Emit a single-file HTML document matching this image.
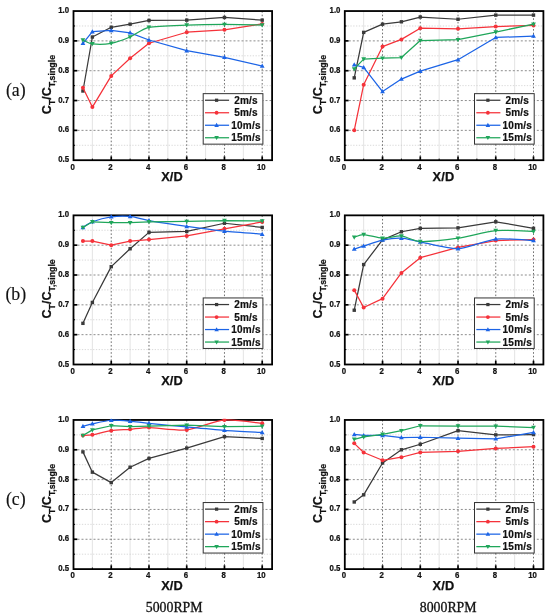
<!DOCTYPE html>
<html><head><meta charset="utf-8"><title>Figure</title>
<style>
html,body{margin:0;padding:0;background:#fff;}
body{width:550px;height:616px;overflow:hidden;}
svg{display:block;}
.t{font-family:"Liberation Sans",Arial,sans-serif;font-weight:bold;fill:#111;}
.k{stroke:#111;stroke-width:0.25px;}
.s{font-family:"Liberation Serif","Times New Roman",serif;fill:#111;}
</style></head><body>
<svg width="550" height="616" viewBox="0 0 550 616">
<rect width="550" height="616" fill="#fff"/>

<g>
<line x1="92.37" y1="11.05" x2="92.37" y2="160.20000000000002" stroke="#dcdcdc" stroke-width="0.8"/>
<line x1="130.11" y1="11.05" x2="130.11" y2="160.20000000000002" stroke="#dcdcdc" stroke-width="0.8"/>
<line x1="167.85" y1="11.05" x2="167.85" y2="160.20000000000002" stroke="#dcdcdc" stroke-width="0.8"/>
<line x1="205.59" y1="11.05" x2="205.59" y2="160.20000000000002" stroke="#dcdcdc" stroke-width="0.8"/>
<line x1="243.33" y1="11.05" x2="243.33" y2="160.20000000000002" stroke="#dcdcdc" stroke-width="0.8"/>
<line x1="73.5" y1="145.29" x2="272.1" y2="145.29" stroke="#cacaca" stroke-width="0.7" stroke-dasharray="1.3 1.5"/>
<line x1="73.5" y1="115.46" x2="272.1" y2="115.46" stroke="#cacaca" stroke-width="0.7" stroke-dasharray="1.3 1.5"/>
<line x1="73.5" y1="85.63" x2="272.1" y2="85.63" stroke="#cacaca" stroke-width="0.7" stroke-dasharray="1.3 1.5"/>
<line x1="73.5" y1="55.80" x2="272.1" y2="55.80" stroke="#cacaca" stroke-width="0.7" stroke-dasharray="1.3 1.5"/>
<line x1="73.5" y1="25.97" x2="272.1" y2="25.97" stroke="#cacaca" stroke-width="0.7" stroke-dasharray="1.3 1.5"/>
<line x1="111.24" y1="11.05" x2="111.24" y2="160.20000000000002" stroke="#6e6e6e" stroke-width="1" stroke-dasharray="1.6 2.0"/>
<line x1="148.98" y1="11.05" x2="148.98" y2="160.20000000000002" stroke="#6e6e6e" stroke-width="1" stroke-dasharray="1.6 2.0"/>
<line x1="186.72" y1="11.05" x2="186.72" y2="160.20000000000002" stroke="#6e6e6e" stroke-width="1" stroke-dasharray="1.6 2.0"/>
<line x1="224.46" y1="11.05" x2="224.46" y2="160.20000000000002" stroke="#6e6e6e" stroke-width="1" stroke-dasharray="1.6 2.0"/>
<line x1="262.20" y1="11.05" x2="262.20" y2="160.20000000000002" stroke="#6e6e6e" stroke-width="1" stroke-dasharray="1.6 2.0"/>
<line x1="73.5" y1="130.37" x2="272.1" y2="130.37" stroke="#808080" stroke-width="0.9" stroke-dasharray="2.0 2.0"/>
<line x1="73.5" y1="100.54" x2="272.1" y2="100.54" stroke="#808080" stroke-width="0.9" stroke-dasharray="2.0 2.0"/>
<line x1="73.5" y1="70.71" x2="272.1" y2="70.71" stroke="#808080" stroke-width="0.9" stroke-dasharray="2.0 2.0"/>
<line x1="73.5" y1="40.88" x2="272.1" y2="40.88" stroke="#808080" stroke-width="0.9" stroke-dasharray="2.0 2.0"/>
<rect x="73.5" y="11.05" width="198.6" height="149.15" fill="none" stroke="#000" stroke-width="1.8"/>
<line x1="92.37" y1="160.20000000000002" x2="92.37" y2="158.60000000000002" stroke="#000" stroke-width="1.0"/>
<line x1="111.24" y1="160.20000000000002" x2="111.24" y2="156.4" stroke="#000" stroke-width="1.7"/>
<line x1="130.11" y1="160.20000000000002" x2="130.11" y2="158.60000000000002" stroke="#000" stroke-width="1.0"/>
<line x1="148.98" y1="160.20000000000002" x2="148.98" y2="156.4" stroke="#000" stroke-width="1.7"/>
<line x1="167.85" y1="160.20000000000002" x2="167.85" y2="158.60000000000002" stroke="#000" stroke-width="1.0"/>
<line x1="186.72" y1="160.20000000000002" x2="186.72" y2="156.4" stroke="#000" stroke-width="1.7"/>
<line x1="205.59" y1="160.20000000000002" x2="205.59" y2="158.60000000000002" stroke="#000" stroke-width="1.0"/>
<line x1="224.46" y1="160.20000000000002" x2="224.46" y2="156.4" stroke="#000" stroke-width="1.7"/>
<line x1="243.33" y1="160.20000000000002" x2="243.33" y2="158.60000000000002" stroke="#000" stroke-width="1.0"/>
<line x1="262.20" y1="160.20000000000002" x2="262.20" y2="156.4" stroke="#000" stroke-width="1.7"/>
<line x1="73.5" y1="145.29" x2="75.1" y2="145.29" stroke="#000" stroke-width="1.0"/>
<line x1="73.5" y1="130.37" x2="77.3" y2="130.37" stroke="#000" stroke-width="1.7"/>
<line x1="73.5" y1="115.46" x2="75.1" y2="115.46" stroke="#000" stroke-width="1.0"/>
<line x1="73.5" y1="100.54" x2="77.3" y2="100.54" stroke="#000" stroke-width="1.7"/>
<line x1="73.5" y1="85.63" x2="75.1" y2="85.63" stroke="#000" stroke-width="1.0"/>
<line x1="73.5" y1="70.71" x2="77.3" y2="70.71" stroke="#000" stroke-width="1.7"/>
<line x1="73.5" y1="55.80" x2="75.1" y2="55.80" stroke="#000" stroke-width="1.0"/>
<line x1="73.5" y1="40.88" x2="77.3" y2="40.88" stroke="#000" stroke-width="1.7"/>
<line x1="73.5" y1="25.97" x2="75.1" y2="25.97" stroke="#000" stroke-width="1.0"/>
<clipPath id="cpaL"><rect x="72.5" y="9.850000000000001" width="200.6" height="151.55"/></clipPath>
<g clip-path="url(#cpaL)">
<path d="M82.94 90.99L92.37 37.00L111.24 27.28L130.11 24.18L148.98 20.45L186.72 20.15L224.46 17.46L262.20 20.15" fill="none" stroke="#3a3a3a" stroke-width="1.25" stroke-linejoin="round"/>
<rect x="81.23" y="89.29" width="3.40" height="3.40" fill="#3a3a3a"/>
<rect x="90.67" y="35.30" width="3.40" height="3.40" fill="#3a3a3a"/>
<rect x="109.54" y="25.58" width="3.40" height="3.40" fill="#3a3a3a"/>
<rect x="128.41" y="22.48" width="3.40" height="3.40" fill="#3a3a3a"/>
<rect x="147.28" y="18.75" width="3.40" height="3.40" fill="#3a3a3a"/>
<rect x="185.02" y="18.45" width="3.40" height="3.40" fill="#3a3a3a"/>
<rect x="222.76" y="15.76" width="3.40" height="3.40" fill="#3a3a3a"/>
<rect x="260.50" y="18.45" width="3.40" height="3.40" fill="#3a3a3a"/>
<path d="M82.94 87.71L92.37 107.10L111.24 75.90L130.11 58.18L148.98 43.27L186.72 32.23L224.46 29.84L262.20 23.88" fill="none" stroke="#f5323a" stroke-width="1.25" stroke-linejoin="round"/>
<circle cx="82.94" cy="87.71" r="2.00" fill="#f5323a"/>
<circle cx="92.37" cy="107.10" r="2.00" fill="#f5323a"/>
<circle cx="111.24" cy="75.90" r="2.00" fill="#f5323a"/>
<circle cx="130.11" cy="58.18" r="2.00" fill="#f5323a"/>
<circle cx="148.98" cy="43.27" r="2.00" fill="#f5323a"/>
<circle cx="186.72" cy="32.23" r="2.00" fill="#f5323a"/>
<circle cx="224.46" cy="29.84" r="2.00" fill="#f5323a"/>
<circle cx="262.20" cy="23.88" r="2.00" fill="#f5323a"/>
<path d="M82.94 43.27L92.37 31.63L111.24 30.44L130.11 32.83L148.98 39.99L186.72 50.72L224.46 57.29L262.20 66.03" fill="none" stroke="#1c64e6" stroke-width="1.25" stroke-linejoin="round"/>
<path d="M82.94 40.77L85.31 45.02L80.56 45.02Z" fill="#1c64e6"/>
<path d="M92.37 29.13L94.75 33.38L90.00 33.38Z" fill="#1c64e6"/>
<path d="M111.24 27.94L113.62 32.19L108.87 32.19Z" fill="#1c64e6"/>
<path d="M130.11 30.33L132.49 34.58L127.74 34.58Z" fill="#1c64e6"/>
<path d="M148.98 37.49L151.36 41.74L146.61 41.74Z" fill="#1c64e6"/>
<path d="M186.72 48.22L189.09 52.47L184.34 52.47Z" fill="#1c64e6"/>
<path d="M224.46 54.79L226.84 59.04L222.09 59.04Z" fill="#1c64e6"/>
<path d="M262.20 63.53L264.58 67.78L259.83 67.78Z" fill="#1c64e6"/>
<path d="M82.94 39.99C84.11 40.47 88.83 43.45 92.37 43.86C95.91 44.27 106.52 44.12 111.24 43.27C115.96 42.41 125.39 39.00 130.11 37.00C134.83 35.00 141.90 28.77 148.98 27.28C156.06 25.79 177.28 25.42 186.72 25.07C196.16 24.72 215.03 24.47 224.46 24.47C233.90 24.47 257.48 25.00 262.20 25.07" fill="none" stroke="#1fa65a" stroke-width="1.25" stroke-linejoin="round"/>
<path d="M82.94 42.49L85.31 38.24L80.56 38.24Z" fill="#1fa65a"/>
<path d="M92.37 46.36L94.75 42.11L90.00 42.11Z" fill="#1fa65a"/>
<path d="M111.24 45.77L113.62 41.52L108.87 41.52Z" fill="#1fa65a"/>
<path d="M130.11 39.50L132.49 35.25L127.74 35.25Z" fill="#1fa65a"/>
<path d="M148.98 29.78L151.36 25.53L146.61 25.53Z" fill="#1fa65a"/>
<path d="M186.72 27.57L189.09 23.32L184.34 23.32Z" fill="#1fa65a"/>
<path d="M224.46 26.97L226.84 22.72L222.09 22.72Z" fill="#1fa65a"/>
<path d="M262.20 27.57L264.58 23.32L259.83 23.32Z" fill="#1fa65a"/>
</g>
<text class="t k" transform="translate(72.60 169.55) scale(0.85 1)" font-size="9.2" text-anchor="middle">0</text>
<text class="t k" transform="translate(110.34 169.55) scale(0.85 1)" font-size="9.2" text-anchor="middle">2</text>
<text class="t k" transform="translate(148.08 169.55) scale(0.85 1)" font-size="9.2" text-anchor="middle">4</text>
<text class="t k" transform="translate(185.82 169.55) scale(0.85 1)" font-size="9.2" text-anchor="middle">6</text>
<text class="t k" transform="translate(223.56 169.55) scale(0.85 1)" font-size="9.2" text-anchor="middle">8</text>
<text class="t k" transform="translate(261.30 169.55) scale(0.85 1)" font-size="9.2" text-anchor="middle">10</text>
<text class="t k" transform="translate(69.10 162.20) scale(0.85 1)" font-size="9.2" text-anchor="end">0.5</text>
<text class="t k" transform="translate(69.10 132.37) scale(0.85 1)" font-size="9.2" text-anchor="end">0.6</text>
<text class="t k" transform="translate(69.10 102.54) scale(0.85 1)" font-size="9.2" text-anchor="end">0.7</text>
<text class="t k" transform="translate(69.10 72.71) scale(0.85 1)" font-size="9.2" text-anchor="end">0.8</text>
<text class="t k" transform="translate(69.10 42.88) scale(0.85 1)" font-size="9.2" text-anchor="end">0.9</text>
<text class="t k" transform="translate(69.10 13.05) scale(0.85 1)" font-size="9.2" text-anchor="end">1.0</text>
<text class="t" x="172.10" y="180.90" font-size="12.8" letter-spacing="0.2" stroke="#111" stroke-width="0.25" text-anchor="middle">X/D</text>
<text class="t" transform="translate(50.90 84.55) rotate(-90)" font-size="12.5" stroke="#111" stroke-width="0.25" text-anchor="middle">C<tspan font-size="8.8" dy="3.8">T</tspan><tspan dy="-3.8">/C</tspan><tspan font-size="8.8" dy="3.8">T,single</tspan></text>
<rect x="203.20" y="93.65" width="59.7" height="50.5" fill="#fff" stroke="#333" stroke-width="1"/>
<line x1="205.00" y1="100.25" x2="229.10" y2="100.25" stroke="#3a3a3a" stroke-width="1.25"/>
<rect x="214.98" y="98.63" width="3.23" height="3.23" fill="#3a3a3a"/>
<text class="t" x="246.00" y="103.75" font-size="10" letter-spacing="0.22" stroke="#111" stroke-width="0.2" text-anchor="middle">2m/s</text>
<line x1="205.00" y1="112.75" x2="229.10" y2="112.75" stroke="#f5323a" stroke-width="1.25"/>
<circle cx="216.60" cy="112.75" r="1.90" fill="#f5323a"/>
<text class="t" x="246.00" y="116.25" font-size="10" letter-spacing="0.22" stroke="#111" stroke-width="0.2" text-anchor="middle">5m/s</text>
<line x1="205.00" y1="125.25" x2="229.10" y2="125.25" stroke="#1c64e6" stroke-width="1.25"/>
<path d="M216.60 122.87L218.86 126.91L214.34 126.91Z" fill="#1c64e6"/>
<text class="t" x="246.00" y="128.75" font-size="10" letter-spacing="0.22" stroke="#111" stroke-width="0.2" text-anchor="middle">10m/s</text>
<line x1="205.00" y1="137.75" x2="229.10" y2="137.75" stroke="#1fa65a" stroke-width="1.25"/>
<path d="M216.60 140.12L218.86 136.09L214.34 136.09Z" fill="#1fa65a"/>
<text class="t" x="246.00" y="141.25" font-size="10" letter-spacing="0.22" stroke="#111" stroke-width="0.2" text-anchor="middle">15m/s</text>
</g>
<g>
<line x1="363.67" y1="11.05" x2="363.67" y2="160.20000000000002" stroke="#dcdcdc" stroke-width="0.8"/>
<line x1="401.41" y1="11.05" x2="401.41" y2="160.20000000000002" stroke="#dcdcdc" stroke-width="0.8"/>
<line x1="439.15" y1="11.05" x2="439.15" y2="160.20000000000002" stroke="#dcdcdc" stroke-width="0.8"/>
<line x1="476.89" y1="11.05" x2="476.89" y2="160.20000000000002" stroke="#dcdcdc" stroke-width="0.8"/>
<line x1="514.63" y1="11.05" x2="514.63" y2="160.20000000000002" stroke="#dcdcdc" stroke-width="0.8"/>
<line x1="344.8" y1="145.29" x2="543.4" y2="145.29" stroke="#cacaca" stroke-width="0.7" stroke-dasharray="1.3 1.5"/>
<line x1="344.8" y1="115.46" x2="543.4" y2="115.46" stroke="#cacaca" stroke-width="0.7" stroke-dasharray="1.3 1.5"/>
<line x1="344.8" y1="85.63" x2="543.4" y2="85.63" stroke="#cacaca" stroke-width="0.7" stroke-dasharray="1.3 1.5"/>
<line x1="344.8" y1="55.80" x2="543.4" y2="55.80" stroke="#cacaca" stroke-width="0.7" stroke-dasharray="1.3 1.5"/>
<line x1="344.8" y1="25.97" x2="543.4" y2="25.97" stroke="#cacaca" stroke-width="0.7" stroke-dasharray="1.3 1.5"/>
<line x1="382.54" y1="11.05" x2="382.54" y2="160.20000000000002" stroke="#6e6e6e" stroke-width="1" stroke-dasharray="1.6 2.0"/>
<line x1="420.28" y1="11.05" x2="420.28" y2="160.20000000000002" stroke="#6e6e6e" stroke-width="1" stroke-dasharray="1.6 2.0"/>
<line x1="458.02" y1="11.05" x2="458.02" y2="160.20000000000002" stroke="#6e6e6e" stroke-width="1" stroke-dasharray="1.6 2.0"/>
<line x1="495.76" y1="11.05" x2="495.76" y2="160.20000000000002" stroke="#6e6e6e" stroke-width="1" stroke-dasharray="1.6 2.0"/>
<line x1="533.50" y1="11.05" x2="533.50" y2="160.20000000000002" stroke="#6e6e6e" stroke-width="1" stroke-dasharray="1.6 2.0"/>
<line x1="344.8" y1="130.37" x2="543.4" y2="130.37" stroke="#808080" stroke-width="0.9" stroke-dasharray="2.0 2.0"/>
<line x1="344.8" y1="100.54" x2="543.4" y2="100.54" stroke="#808080" stroke-width="0.9" stroke-dasharray="2.0 2.0"/>
<line x1="344.8" y1="70.71" x2="543.4" y2="70.71" stroke="#808080" stroke-width="0.9" stroke-dasharray="2.0 2.0"/>
<line x1="344.8" y1="40.88" x2="543.4" y2="40.88" stroke="#808080" stroke-width="0.9" stroke-dasharray="2.0 2.0"/>
<rect x="344.8" y="11.05" width="198.6" height="149.15" fill="none" stroke="#000" stroke-width="1.8"/>
<line x1="363.67" y1="160.20000000000002" x2="363.67" y2="158.60000000000002" stroke="#000" stroke-width="1.0"/>
<line x1="382.54" y1="160.20000000000002" x2="382.54" y2="156.4" stroke="#000" stroke-width="1.7"/>
<line x1="401.41" y1="160.20000000000002" x2="401.41" y2="158.60000000000002" stroke="#000" stroke-width="1.0"/>
<line x1="420.28" y1="160.20000000000002" x2="420.28" y2="156.4" stroke="#000" stroke-width="1.7"/>
<line x1="439.15" y1="160.20000000000002" x2="439.15" y2="158.60000000000002" stroke="#000" stroke-width="1.0"/>
<line x1="458.02" y1="160.20000000000002" x2="458.02" y2="156.4" stroke="#000" stroke-width="1.7"/>
<line x1="476.89" y1="160.20000000000002" x2="476.89" y2="158.60000000000002" stroke="#000" stroke-width="1.0"/>
<line x1="495.76" y1="160.20000000000002" x2="495.76" y2="156.4" stroke="#000" stroke-width="1.7"/>
<line x1="514.63" y1="160.20000000000002" x2="514.63" y2="158.60000000000002" stroke="#000" stroke-width="1.0"/>
<line x1="533.50" y1="160.20000000000002" x2="533.50" y2="156.4" stroke="#000" stroke-width="1.7"/>
<line x1="344.8" y1="145.29" x2="346.40000000000003" y2="145.29" stroke="#000" stroke-width="1.0"/>
<line x1="344.8" y1="130.37" x2="348.6" y2="130.37" stroke="#000" stroke-width="1.7"/>
<line x1="344.8" y1="115.46" x2="346.40000000000003" y2="115.46" stroke="#000" stroke-width="1.0"/>
<line x1="344.8" y1="100.54" x2="348.6" y2="100.54" stroke="#000" stroke-width="1.7"/>
<line x1="344.8" y1="85.63" x2="346.40000000000003" y2="85.63" stroke="#000" stroke-width="1.0"/>
<line x1="344.8" y1="70.71" x2="348.6" y2="70.71" stroke="#000" stroke-width="1.7"/>
<line x1="344.8" y1="55.80" x2="346.40000000000003" y2="55.80" stroke="#000" stroke-width="1.0"/>
<line x1="344.8" y1="40.88" x2="348.6" y2="40.88" stroke="#000" stroke-width="1.7"/>
<line x1="344.8" y1="25.97" x2="346.40000000000003" y2="25.97" stroke="#000" stroke-width="1.0"/>
<clipPath id="cpaR"><rect x="343.8" y="9.850000000000001" width="200.6" height="151.55"/></clipPath>
<g clip-path="url(#cpaR)">
<path d="M354.24 77.87L363.67 32.38L382.54 24.18L401.41 21.79L420.28 17.02L458.02 19.25L495.76 15.11L533.50 15.11" fill="none" stroke="#3a3a3a" stroke-width="1.25" stroke-linejoin="round"/>
<rect x="352.54" y="76.17" width="3.40" height="3.40" fill="#3a3a3a"/>
<rect x="361.97" y="30.68" width="3.40" height="3.40" fill="#3a3a3a"/>
<rect x="380.84" y="22.48" width="3.40" height="3.40" fill="#3a3a3a"/>
<rect x="399.71" y="20.09" width="3.40" height="3.40" fill="#3a3a3a"/>
<rect x="418.58" y="15.32" width="3.40" height="3.40" fill="#3a3a3a"/>
<rect x="456.32" y="17.55" width="3.40" height="3.40" fill="#3a3a3a"/>
<rect x="494.06" y="13.41" width="3.40" height="3.40" fill="#3a3a3a"/>
<rect x="531.80" y="13.41" width="3.40" height="3.40" fill="#3a3a3a"/>
<path d="M354.24 130.37L363.67 84.73L382.54 46.55L401.41 39.39L420.28 28.20L458.02 28.77L495.76 26.56L533.50 25.46" fill="none" stroke="#f5323a" stroke-width="1.25" stroke-linejoin="round"/>
<circle cx="354.24" cy="130.37" r="2.00" fill="#f5323a"/>
<circle cx="363.67" cy="84.73" r="2.00" fill="#f5323a"/>
<circle cx="382.54" cy="46.55" r="2.00" fill="#f5323a"/>
<circle cx="401.41" cy="39.39" r="2.00" fill="#f5323a"/>
<circle cx="420.28" cy="28.20" r="2.00" fill="#f5323a"/>
<circle cx="458.02" cy="28.77" r="2.00" fill="#f5323a"/>
<circle cx="495.76" cy="26.56" r="2.00" fill="#f5323a"/>
<circle cx="533.50" cy="25.46" r="2.00" fill="#f5323a"/>
<path d="M354.24 64.74L363.67 67.43L382.54 91.59L401.41 79.06L420.28 71.16L458.02 59.67L495.76 37.48L533.50 36.11" fill="none" stroke="#1c64e6" stroke-width="1.25" stroke-linejoin="round"/>
<path d="M354.24 62.24L356.61 66.49L351.86 66.49Z" fill="#1c64e6"/>
<path d="M363.67 64.93L366.05 69.18L361.30 69.18Z" fill="#1c64e6"/>
<path d="M382.54 89.09L384.92 93.34L380.17 93.34Z" fill="#1c64e6"/>
<path d="M401.41 76.56L403.79 80.81L399.04 80.81Z" fill="#1c64e6"/>
<path d="M420.28 68.66L422.66 72.91L417.91 72.91Z" fill="#1c64e6"/>
<path d="M458.02 57.17L460.39 61.42L455.64 61.42Z" fill="#1c64e6"/>
<path d="M495.76 34.98L498.13 39.23L493.38 39.23Z" fill="#1c64e6"/>
<path d="M533.50 33.61L535.88 37.86L531.12 37.86Z" fill="#1c64e6"/>
<path d="M354.24 68.92L363.67 59.08L382.54 58.18L401.41 57.58L420.28 40.58L458.02 39.69L495.76 32.05L533.50 24.18" fill="none" stroke="#1fa65a" stroke-width="1.25" stroke-linejoin="round"/>
<path d="M354.24 71.42L356.61 67.17L351.86 67.17Z" fill="#1fa65a"/>
<path d="M363.67 61.58L366.05 57.33L361.30 57.33Z" fill="#1fa65a"/>
<path d="M382.54 60.68L384.92 56.43L380.17 56.43Z" fill="#1fa65a"/>
<path d="M401.41 60.08L403.79 55.83L399.04 55.83Z" fill="#1fa65a"/>
<path d="M420.28 43.08L422.66 38.83L417.91 38.83Z" fill="#1fa65a"/>
<path d="M458.02 42.19L460.39 37.94L455.64 37.94Z" fill="#1fa65a"/>
<path d="M495.76 34.55L498.13 30.30L493.38 30.30Z" fill="#1fa65a"/>
<path d="M533.50 26.68L535.88 22.43L531.12 22.43Z" fill="#1fa65a"/>
</g>
<text class="t k" transform="translate(343.90 169.55) scale(0.85 1)" font-size="9.2" text-anchor="middle">0</text>
<text class="t k" transform="translate(381.64 169.55) scale(0.85 1)" font-size="9.2" text-anchor="middle">2</text>
<text class="t k" transform="translate(419.38 169.55) scale(0.85 1)" font-size="9.2" text-anchor="middle">4</text>
<text class="t k" transform="translate(457.12 169.55) scale(0.85 1)" font-size="9.2" text-anchor="middle">6</text>
<text class="t k" transform="translate(494.86 169.55) scale(0.85 1)" font-size="9.2" text-anchor="middle">8</text>
<text class="t k" transform="translate(532.60 169.55) scale(0.85 1)" font-size="9.2" text-anchor="middle">10</text>
<text class="t k" transform="translate(340.40 162.20) scale(0.85 1)" font-size="9.2" text-anchor="end">0.5</text>
<text class="t k" transform="translate(340.40 132.37) scale(0.85 1)" font-size="9.2" text-anchor="end">0.6</text>
<text class="t k" transform="translate(340.40 102.54) scale(0.85 1)" font-size="9.2" text-anchor="end">0.7</text>
<text class="t k" transform="translate(340.40 72.71) scale(0.85 1)" font-size="9.2" text-anchor="end">0.8</text>
<text class="t k" transform="translate(340.40 42.88) scale(0.85 1)" font-size="9.2" text-anchor="end">0.9</text>
<text class="t k" transform="translate(340.40 13.05) scale(0.85 1)" font-size="9.2" text-anchor="end">1.0</text>
<text class="t" x="443.40" y="180.90" font-size="12.8" letter-spacing="0.2" stroke="#111" stroke-width="0.25" text-anchor="middle">X/D</text>
<text class="t" transform="translate(322.20 84.55) rotate(-90)" font-size="12.5" stroke="#111" stroke-width="0.25" text-anchor="middle">C<tspan font-size="8.8" dy="3.8">T</tspan><tspan dy="-3.8">/C</tspan><tspan font-size="8.8" dy="3.8">T,single</tspan></text>
<rect x="474.50" y="93.65" width="59.7" height="50.5" fill="#fff" stroke="#333" stroke-width="1"/>
<line x1="476.30" y1="100.25" x2="500.40" y2="100.25" stroke="#3a3a3a" stroke-width="1.25"/>
<rect x="486.28" y="98.63" width="3.23" height="3.23" fill="#3a3a3a"/>
<text class="t" x="517.30" y="103.75" font-size="10" letter-spacing="0.22" stroke="#111" stroke-width="0.2" text-anchor="middle">2m/s</text>
<line x1="476.30" y1="112.75" x2="500.40" y2="112.75" stroke="#f5323a" stroke-width="1.25"/>
<circle cx="487.90" cy="112.75" r="1.90" fill="#f5323a"/>
<text class="t" x="517.30" y="116.25" font-size="10" letter-spacing="0.22" stroke="#111" stroke-width="0.2" text-anchor="middle">5m/s</text>
<line x1="476.30" y1="125.25" x2="500.40" y2="125.25" stroke="#1c64e6" stroke-width="1.25"/>
<path d="M487.90 122.87L490.16 126.91L485.64 126.91Z" fill="#1c64e6"/>
<text class="t" x="517.30" y="128.75" font-size="10" letter-spacing="0.22" stroke="#111" stroke-width="0.2" text-anchor="middle">10m/s</text>
<line x1="476.30" y1="137.75" x2="500.40" y2="137.75" stroke="#1fa65a" stroke-width="1.25"/>
<path d="M487.90 140.12L490.16 136.09L485.64 136.09Z" fill="#1fa65a"/>
<text class="t" x="517.30" y="141.25" font-size="10" letter-spacing="0.22" stroke="#111" stroke-width="0.2" text-anchor="middle">15m/s</text>
</g>
<g>
<line x1="92.37" y1="215.35" x2="92.37" y2="364.5" stroke="#dcdcdc" stroke-width="0.8"/>
<line x1="130.11" y1="215.35" x2="130.11" y2="364.5" stroke="#dcdcdc" stroke-width="0.8"/>
<line x1="167.85" y1="215.35" x2="167.85" y2="364.5" stroke="#dcdcdc" stroke-width="0.8"/>
<line x1="205.59" y1="215.35" x2="205.59" y2="364.5" stroke="#dcdcdc" stroke-width="0.8"/>
<line x1="243.33" y1="215.35" x2="243.33" y2="364.5" stroke="#dcdcdc" stroke-width="0.8"/>
<line x1="73.5" y1="349.58" x2="272.1" y2="349.58" stroke="#cacaca" stroke-width="0.7" stroke-dasharray="1.3 1.5"/>
<line x1="73.5" y1="319.75" x2="272.1" y2="319.75" stroke="#cacaca" stroke-width="0.7" stroke-dasharray="1.3 1.5"/>
<line x1="73.5" y1="289.93" x2="272.1" y2="289.93" stroke="#cacaca" stroke-width="0.7" stroke-dasharray="1.3 1.5"/>
<line x1="73.5" y1="260.09" x2="272.1" y2="260.09" stroke="#cacaca" stroke-width="0.7" stroke-dasharray="1.3 1.5"/>
<line x1="73.5" y1="230.26" x2="272.1" y2="230.26" stroke="#cacaca" stroke-width="0.7" stroke-dasharray="1.3 1.5"/>
<line x1="111.24" y1="215.35" x2="111.24" y2="364.5" stroke="#6e6e6e" stroke-width="1" stroke-dasharray="1.6 2.0"/>
<line x1="148.98" y1="215.35" x2="148.98" y2="364.5" stroke="#6e6e6e" stroke-width="1" stroke-dasharray="1.6 2.0"/>
<line x1="186.72" y1="215.35" x2="186.72" y2="364.5" stroke="#6e6e6e" stroke-width="1" stroke-dasharray="1.6 2.0"/>
<line x1="224.46" y1="215.35" x2="224.46" y2="364.5" stroke="#6e6e6e" stroke-width="1" stroke-dasharray="1.6 2.0"/>
<line x1="262.20" y1="215.35" x2="262.20" y2="364.5" stroke="#6e6e6e" stroke-width="1" stroke-dasharray="1.6 2.0"/>
<line x1="73.5" y1="334.67" x2="272.1" y2="334.67" stroke="#808080" stroke-width="0.9" stroke-dasharray="2.0 2.0"/>
<line x1="73.5" y1="304.84" x2="272.1" y2="304.84" stroke="#808080" stroke-width="0.9" stroke-dasharray="2.0 2.0"/>
<line x1="73.5" y1="275.01" x2="272.1" y2="275.01" stroke="#808080" stroke-width="0.9" stroke-dasharray="2.0 2.0"/>
<line x1="73.5" y1="245.18" x2="272.1" y2="245.18" stroke="#808080" stroke-width="0.9" stroke-dasharray="2.0 2.0"/>
<rect x="73.5" y="215.35" width="198.6" height="149.15" fill="none" stroke="#000" stroke-width="1.8"/>
<line x1="92.37" y1="364.5" x2="92.37" y2="362.9" stroke="#000" stroke-width="1.0"/>
<line x1="111.24" y1="364.5" x2="111.24" y2="360.7" stroke="#000" stroke-width="1.7"/>
<line x1="130.11" y1="364.5" x2="130.11" y2="362.9" stroke="#000" stroke-width="1.0"/>
<line x1="148.98" y1="364.5" x2="148.98" y2="360.7" stroke="#000" stroke-width="1.7"/>
<line x1="167.85" y1="364.5" x2="167.85" y2="362.9" stroke="#000" stroke-width="1.0"/>
<line x1="186.72" y1="364.5" x2="186.72" y2="360.7" stroke="#000" stroke-width="1.7"/>
<line x1="205.59" y1="364.5" x2="205.59" y2="362.9" stroke="#000" stroke-width="1.0"/>
<line x1="224.46" y1="364.5" x2="224.46" y2="360.7" stroke="#000" stroke-width="1.7"/>
<line x1="243.33" y1="364.5" x2="243.33" y2="362.9" stroke="#000" stroke-width="1.0"/>
<line x1="262.20" y1="364.5" x2="262.20" y2="360.7" stroke="#000" stroke-width="1.7"/>
<line x1="73.5" y1="349.58" x2="75.1" y2="349.58" stroke="#000" stroke-width="1.0"/>
<line x1="73.5" y1="334.67" x2="77.3" y2="334.67" stroke="#000" stroke-width="1.7"/>
<line x1="73.5" y1="319.75" x2="75.1" y2="319.75" stroke="#000" stroke-width="1.0"/>
<line x1="73.5" y1="304.84" x2="77.3" y2="304.84" stroke="#000" stroke-width="1.7"/>
<line x1="73.5" y1="289.93" x2="75.1" y2="289.93" stroke="#000" stroke-width="1.0"/>
<line x1="73.5" y1="275.01" x2="77.3" y2="275.01" stroke="#000" stroke-width="1.7"/>
<line x1="73.5" y1="260.09" x2="75.1" y2="260.09" stroke="#000" stroke-width="1.0"/>
<line x1="73.5" y1="245.18" x2="77.3" y2="245.18" stroke="#000" stroke-width="1.7"/>
<line x1="73.5" y1="230.26" x2="75.1" y2="230.26" stroke="#000" stroke-width="1.0"/>
<clipPath id="cpbL"><rect x="72.5" y="214.15" width="200.6" height="151.55"/></clipPath>
<g clip-path="url(#cpbL)">
<path d="M82.94 323.33L92.37 302.45L111.24 266.66L130.11 248.76L148.98 232.35L186.72 231.46L224.46 223.25L262.20 227.43" fill="none" stroke="#3a3a3a" stroke-width="1.25" stroke-linejoin="round"/>
<rect x="81.23" y="321.63" width="3.40" height="3.40" fill="#3a3a3a"/>
<rect x="90.67" y="300.75" width="3.40" height="3.40" fill="#3a3a3a"/>
<rect x="109.54" y="264.96" width="3.40" height="3.40" fill="#3a3a3a"/>
<rect x="128.41" y="247.06" width="3.40" height="3.40" fill="#3a3a3a"/>
<rect x="147.28" y="230.65" width="3.40" height="3.40" fill="#3a3a3a"/>
<rect x="185.02" y="229.76" width="3.40" height="3.40" fill="#3a3a3a"/>
<rect x="222.76" y="221.55" width="3.40" height="3.40" fill="#3a3a3a"/>
<rect x="260.50" y="225.73" width="3.40" height="3.40" fill="#3a3a3a"/>
<path d="M82.94 241.09L92.37 241.09L111.24 245.18L130.11 241.09L148.98 239.60L186.72 235.93L224.46 228.77L262.20 221.91" fill="none" stroke="#f5323a" stroke-width="1.25" stroke-linejoin="round"/>
<circle cx="82.94" cy="241.09" r="2.00" fill="#f5323a"/>
<circle cx="92.37" cy="241.09" r="2.00" fill="#f5323a"/>
<circle cx="111.24" cy="245.18" r="2.00" fill="#f5323a"/>
<circle cx="130.11" cy="241.09" r="2.00" fill="#f5323a"/>
<circle cx="148.98" cy="239.60" r="2.00" fill="#f5323a"/>
<circle cx="186.72" cy="235.93" r="2.00" fill="#f5323a"/>
<circle cx="224.46" cy="228.77" r="2.00" fill="#f5323a"/>
<circle cx="262.20" cy="221.91" r="2.00" fill="#f5323a"/>
<path d="M82.94 227.43C84.11 226.72 88.83 223.09 92.37 221.76C95.91 220.44 106.52 217.51 111.24 216.84C115.96 216.17 125.39 215.94 130.11 216.39C134.83 216.85 141.90 219.26 148.98 220.51C156.06 221.76 177.28 225.06 186.72 226.39C196.16 227.72 215.03 230.19 224.46 231.16C233.90 232.13 257.48 233.77 262.20 234.14" fill="none" stroke="#1c64e6" stroke-width="1.25" stroke-linejoin="round"/>
<path d="M82.94 224.93L85.31 229.18L80.56 229.18Z" fill="#1c64e6"/>
<path d="M92.37 219.26L94.75 223.51L90.00 223.51Z" fill="#1c64e6"/>
<path d="M111.24 214.34L113.62 218.59L108.87 218.59Z" fill="#1c64e6"/>
<path d="M130.11 213.89L132.49 218.14L127.74 218.14Z" fill="#1c64e6"/>
<path d="M148.98 218.01L151.36 222.26L146.61 222.26Z" fill="#1c64e6"/>
<path d="M186.72 223.89L189.09 228.14L184.34 228.14Z" fill="#1c64e6"/>
<path d="M224.46 228.66L226.84 232.91L222.09 232.91Z" fill="#1c64e6"/>
<path d="M262.20 231.64L264.58 235.89L259.83 235.89Z" fill="#1c64e6"/>
<path d="M82.94 227.43L92.37 221.76L111.24 222.66L130.11 222.66L148.98 221.76L186.72 221.41L224.46 220.51L262.20 221.02" fill="none" stroke="#1fa65a" stroke-width="1.25" stroke-linejoin="round"/>
<path d="M82.94 229.93L85.31 225.68L80.56 225.68Z" fill="#1fa65a"/>
<path d="M92.37 224.26L94.75 220.01L90.00 220.01Z" fill="#1fa65a"/>
<path d="M111.24 225.16L113.62 220.91L108.87 220.91Z" fill="#1fa65a"/>
<path d="M130.11 225.16L132.49 220.91L127.74 220.91Z" fill="#1fa65a"/>
<path d="M148.98 224.26L151.36 220.01L146.61 220.01Z" fill="#1fa65a"/>
<path d="M186.72 223.91L189.09 219.66L184.34 219.66Z" fill="#1fa65a"/>
<path d="M224.46 223.01L226.84 218.76L222.09 218.76Z" fill="#1fa65a"/>
<path d="M262.20 223.52L264.58 219.27L259.83 219.27Z" fill="#1fa65a"/>
</g>
<text class="t k" transform="translate(72.60 373.85) scale(0.85 1)" font-size="9.2" text-anchor="middle">0</text>
<text class="t k" transform="translate(110.34 373.85) scale(0.85 1)" font-size="9.2" text-anchor="middle">2</text>
<text class="t k" transform="translate(148.08 373.85) scale(0.85 1)" font-size="9.2" text-anchor="middle">4</text>
<text class="t k" transform="translate(185.82 373.85) scale(0.85 1)" font-size="9.2" text-anchor="middle">6</text>
<text class="t k" transform="translate(223.56 373.85) scale(0.85 1)" font-size="9.2" text-anchor="middle">8</text>
<text class="t k" transform="translate(261.30 373.85) scale(0.85 1)" font-size="9.2" text-anchor="middle">10</text>
<text class="t k" transform="translate(69.10 366.50) scale(0.85 1)" font-size="9.2" text-anchor="end">0.5</text>
<text class="t k" transform="translate(69.10 336.67) scale(0.85 1)" font-size="9.2" text-anchor="end">0.6</text>
<text class="t k" transform="translate(69.10 306.84) scale(0.85 1)" font-size="9.2" text-anchor="end">0.7</text>
<text class="t k" transform="translate(69.10 277.01) scale(0.85 1)" font-size="9.2" text-anchor="end">0.8</text>
<text class="t k" transform="translate(69.10 247.18) scale(0.85 1)" font-size="9.2" text-anchor="end">0.9</text>
<text class="t k" transform="translate(69.10 217.35) scale(0.85 1)" font-size="9.2" text-anchor="end">1.0</text>
<text class="t" x="172.10" y="385.20" font-size="12.8" letter-spacing="0.2" stroke="#111" stroke-width="0.25" text-anchor="middle">X/D</text>
<text class="t" transform="translate(50.90 288.85) rotate(-90)" font-size="12.5" stroke="#111" stroke-width="0.25" text-anchor="middle">C<tspan font-size="8.8" dy="3.8">T</tspan><tspan dy="-3.8">/C</tspan><tspan font-size="8.8" dy="3.8">T,single</tspan></text>
<rect x="203.20" y="297.95" width="59.7" height="50.5" fill="#fff" stroke="#333" stroke-width="1"/>
<line x1="205.00" y1="304.55" x2="229.10" y2="304.55" stroke="#3a3a3a" stroke-width="1.25"/>
<rect x="214.98" y="302.94" width="3.23" height="3.23" fill="#3a3a3a"/>
<text class="t" x="246.00" y="308.05" font-size="10" letter-spacing="0.22" stroke="#111" stroke-width="0.2" text-anchor="middle">2m/s</text>
<line x1="205.00" y1="317.05" x2="229.10" y2="317.05" stroke="#f5323a" stroke-width="1.25"/>
<circle cx="216.60" cy="317.05" r="1.90" fill="#f5323a"/>
<text class="t" x="246.00" y="320.55" font-size="10" letter-spacing="0.22" stroke="#111" stroke-width="0.2" text-anchor="middle">5m/s</text>
<line x1="205.00" y1="329.55" x2="229.10" y2="329.55" stroke="#1c64e6" stroke-width="1.25"/>
<path d="M216.60 327.18L218.86 331.21L214.34 331.21Z" fill="#1c64e6"/>
<text class="t" x="246.00" y="333.05" font-size="10" letter-spacing="0.22" stroke="#111" stroke-width="0.2" text-anchor="middle">10m/s</text>
<line x1="205.00" y1="342.05" x2="229.10" y2="342.05" stroke="#1fa65a" stroke-width="1.25"/>
<path d="M216.60 344.43L218.86 340.39L214.34 340.39Z" fill="#1fa65a"/>
<text class="t" x="246.00" y="345.55" font-size="10" letter-spacing="0.22" stroke="#111" stroke-width="0.2" text-anchor="middle">15m/s</text>
</g>
<g>
<line x1="363.67" y1="215.35" x2="363.67" y2="364.5" stroke="#dcdcdc" stroke-width="0.8"/>
<line x1="401.41" y1="215.35" x2="401.41" y2="364.5" stroke="#dcdcdc" stroke-width="0.8"/>
<line x1="439.15" y1="215.35" x2="439.15" y2="364.5" stroke="#dcdcdc" stroke-width="0.8"/>
<line x1="476.89" y1="215.35" x2="476.89" y2="364.5" stroke="#dcdcdc" stroke-width="0.8"/>
<line x1="514.63" y1="215.35" x2="514.63" y2="364.5" stroke="#dcdcdc" stroke-width="0.8"/>
<line x1="344.8" y1="349.58" x2="543.4" y2="349.58" stroke="#cacaca" stroke-width="0.7" stroke-dasharray="1.3 1.5"/>
<line x1="344.8" y1="319.75" x2="543.4" y2="319.75" stroke="#cacaca" stroke-width="0.7" stroke-dasharray="1.3 1.5"/>
<line x1="344.8" y1="289.93" x2="543.4" y2="289.93" stroke="#cacaca" stroke-width="0.7" stroke-dasharray="1.3 1.5"/>
<line x1="344.8" y1="260.09" x2="543.4" y2="260.09" stroke="#cacaca" stroke-width="0.7" stroke-dasharray="1.3 1.5"/>
<line x1="344.8" y1="230.26" x2="543.4" y2="230.26" stroke="#cacaca" stroke-width="0.7" stroke-dasharray="1.3 1.5"/>
<line x1="382.54" y1="215.35" x2="382.54" y2="364.5" stroke="#6e6e6e" stroke-width="1" stroke-dasharray="1.6 2.0"/>
<line x1="420.28" y1="215.35" x2="420.28" y2="364.5" stroke="#6e6e6e" stroke-width="1" stroke-dasharray="1.6 2.0"/>
<line x1="458.02" y1="215.35" x2="458.02" y2="364.5" stroke="#6e6e6e" stroke-width="1" stroke-dasharray="1.6 2.0"/>
<line x1="495.76" y1="215.35" x2="495.76" y2="364.5" stroke="#6e6e6e" stroke-width="1" stroke-dasharray="1.6 2.0"/>
<line x1="533.50" y1="215.35" x2="533.50" y2="364.5" stroke="#6e6e6e" stroke-width="1" stroke-dasharray="1.6 2.0"/>
<line x1="344.8" y1="334.67" x2="543.4" y2="334.67" stroke="#808080" stroke-width="0.9" stroke-dasharray="2.0 2.0"/>
<line x1="344.8" y1="304.84" x2="543.4" y2="304.84" stroke="#808080" stroke-width="0.9" stroke-dasharray="2.0 2.0"/>
<line x1="344.8" y1="275.01" x2="543.4" y2="275.01" stroke="#808080" stroke-width="0.9" stroke-dasharray="2.0 2.0"/>
<line x1="344.8" y1="245.18" x2="543.4" y2="245.18" stroke="#808080" stroke-width="0.9" stroke-dasharray="2.0 2.0"/>
<rect x="344.8" y="215.35" width="198.6" height="149.15" fill="none" stroke="#000" stroke-width="1.8"/>
<line x1="363.67" y1="364.5" x2="363.67" y2="362.9" stroke="#000" stroke-width="1.0"/>
<line x1="382.54" y1="364.5" x2="382.54" y2="360.7" stroke="#000" stroke-width="1.7"/>
<line x1="401.41" y1="364.5" x2="401.41" y2="362.9" stroke="#000" stroke-width="1.0"/>
<line x1="420.28" y1="364.5" x2="420.28" y2="360.7" stroke="#000" stroke-width="1.7"/>
<line x1="439.15" y1="364.5" x2="439.15" y2="362.9" stroke="#000" stroke-width="1.0"/>
<line x1="458.02" y1="364.5" x2="458.02" y2="360.7" stroke="#000" stroke-width="1.7"/>
<line x1="476.89" y1="364.5" x2="476.89" y2="362.9" stroke="#000" stroke-width="1.0"/>
<line x1="495.76" y1="364.5" x2="495.76" y2="360.7" stroke="#000" stroke-width="1.7"/>
<line x1="514.63" y1="364.5" x2="514.63" y2="362.9" stroke="#000" stroke-width="1.0"/>
<line x1="533.50" y1="364.5" x2="533.50" y2="360.7" stroke="#000" stroke-width="1.7"/>
<line x1="344.8" y1="349.58" x2="346.40000000000003" y2="349.58" stroke="#000" stroke-width="1.0"/>
<line x1="344.8" y1="334.67" x2="348.6" y2="334.67" stroke="#000" stroke-width="1.7"/>
<line x1="344.8" y1="319.75" x2="346.40000000000003" y2="319.75" stroke="#000" stroke-width="1.0"/>
<line x1="344.8" y1="304.84" x2="348.6" y2="304.84" stroke="#000" stroke-width="1.7"/>
<line x1="344.8" y1="289.93" x2="346.40000000000003" y2="289.93" stroke="#000" stroke-width="1.0"/>
<line x1="344.8" y1="275.01" x2="348.6" y2="275.01" stroke="#000" stroke-width="1.7"/>
<line x1="344.8" y1="260.09" x2="346.40000000000003" y2="260.09" stroke="#000" stroke-width="1.0"/>
<line x1="344.8" y1="245.18" x2="348.6" y2="245.18" stroke="#000" stroke-width="1.7"/>
<line x1="344.8" y1="230.26" x2="346.40000000000003" y2="230.26" stroke="#000" stroke-width="1.0"/>
<clipPath id="cpbR"><rect x="343.8" y="214.15" width="200.6" height="151.55"/></clipPath>
<g clip-path="url(#cpbR)">
<path d="M354.24 310.21L363.67 264.57L382.54 239.81L401.41 231.76L420.28 228.33L458.02 227.88L495.76 221.76L533.50 228.33" fill="none" stroke="#3a3a3a" stroke-width="1.25" stroke-linejoin="round"/>
<rect x="352.54" y="308.51" width="3.40" height="3.40" fill="#3a3a3a"/>
<rect x="361.97" y="262.87" width="3.40" height="3.40" fill="#3a3a3a"/>
<rect x="380.84" y="238.11" width="3.40" height="3.40" fill="#3a3a3a"/>
<rect x="399.71" y="230.06" width="3.40" height="3.40" fill="#3a3a3a"/>
<rect x="418.58" y="226.63" width="3.40" height="3.40" fill="#3a3a3a"/>
<rect x="456.32" y="226.18" width="3.40" height="3.40" fill="#3a3a3a"/>
<rect x="494.06" y="220.06" width="3.40" height="3.40" fill="#3a3a3a"/>
<rect x="531.80" y="226.63" width="3.40" height="3.40" fill="#3a3a3a"/>
<path d="M354.24 290.13L363.67 307.52L382.54 298.67L401.41 272.92L420.28 257.71L458.02 247.42L495.76 240.56L533.50 239.51" fill="none" stroke="#f5323a" stroke-width="1.25" stroke-linejoin="round"/>
<circle cx="354.24" cy="290.13" r="2.00" fill="#f5323a"/>
<circle cx="363.67" cy="307.52" r="2.00" fill="#f5323a"/>
<circle cx="382.54" cy="298.67" r="2.00" fill="#f5323a"/>
<circle cx="401.41" cy="272.92" r="2.00" fill="#f5323a"/>
<circle cx="420.28" cy="257.71" r="2.00" fill="#f5323a"/>
<circle cx="458.02" cy="247.42" r="2.00" fill="#f5323a"/>
<circle cx="495.76" cy="240.56" r="2.00" fill="#f5323a"/>
<circle cx="533.50" cy="239.51" r="2.00" fill="#f5323a"/>
<path d="M354.24 249.06C355.41 248.69 360.13 247.19 363.67 246.07C367.21 244.96 377.82 241.10 382.54 240.11C387.26 239.12 396.69 237.95 401.41 238.17C406.13 238.39 413.20 240.57 420.28 241.90C427.36 243.22 448.58 249.11 458.02 248.76C467.45 248.41 486.32 240.09 495.76 239.06C505.19 238.04 528.78 240.37 533.50 240.56" fill="none" stroke="#1c64e6" stroke-width="1.25" stroke-linejoin="round"/>
<path d="M354.24 246.56L356.61 250.81L351.86 250.81Z" fill="#1c64e6"/>
<path d="M363.67 243.57L366.05 247.82L361.30 247.82Z" fill="#1c64e6"/>
<path d="M382.54 237.61L384.92 241.86L380.17 241.86Z" fill="#1c64e6"/>
<path d="M401.41 235.67L403.79 239.92L399.04 239.92Z" fill="#1c64e6"/>
<path d="M420.28 239.40L422.66 243.65L417.91 243.65Z" fill="#1c64e6"/>
<path d="M458.02 246.26L460.39 250.51L455.64 250.51Z" fill="#1c64e6"/>
<path d="M495.76 236.56L498.13 240.81L493.38 240.81Z" fill="#1c64e6"/>
<path d="M533.50 238.06L535.88 242.31L531.12 242.31Z" fill="#1c64e6"/>
<path d="M354.24 237.28C355.41 236.93 360.13 234.42 363.67 234.53C367.21 234.64 377.82 237.99 382.54 238.17C387.26 238.35 396.69 235.52 401.41 235.93C406.13 236.34 413.20 241.17 420.28 241.45C427.36 241.73 448.58 239.53 458.02 238.17C467.45 236.81 486.32 231.40 495.76 230.56C505.19 229.72 528.78 231.35 533.50 231.46" fill="none" stroke="#1fa65a" stroke-width="1.25" stroke-linejoin="round"/>
<path d="M354.24 239.78L356.61 235.53L351.86 235.53Z" fill="#1fa65a"/>
<path d="M363.67 237.03L366.05 232.78L361.30 232.78Z" fill="#1fa65a"/>
<path d="M382.54 240.67L384.92 236.42L380.17 236.42Z" fill="#1fa65a"/>
<path d="M401.41 238.43L403.79 234.18L399.04 234.18Z" fill="#1fa65a"/>
<path d="M420.28 243.95L422.66 239.70L417.91 239.70Z" fill="#1fa65a"/>
<path d="M458.02 240.67L460.39 236.42L455.64 236.42Z" fill="#1fa65a"/>
<path d="M495.76 233.06L498.13 228.81L493.38 228.81Z" fill="#1fa65a"/>
<path d="M533.50 233.96L535.88 229.71L531.12 229.71Z" fill="#1fa65a"/>
</g>
<text class="t k" transform="translate(343.90 373.85) scale(0.85 1)" font-size="9.2" text-anchor="middle">0</text>
<text class="t k" transform="translate(381.64 373.85) scale(0.85 1)" font-size="9.2" text-anchor="middle">2</text>
<text class="t k" transform="translate(419.38 373.85) scale(0.85 1)" font-size="9.2" text-anchor="middle">4</text>
<text class="t k" transform="translate(457.12 373.85) scale(0.85 1)" font-size="9.2" text-anchor="middle">6</text>
<text class="t k" transform="translate(494.86 373.85) scale(0.85 1)" font-size="9.2" text-anchor="middle">8</text>
<text class="t k" transform="translate(532.60 373.85) scale(0.85 1)" font-size="9.2" text-anchor="middle">10</text>
<text class="t k" transform="translate(340.40 366.50) scale(0.85 1)" font-size="9.2" text-anchor="end">0.5</text>
<text class="t k" transform="translate(340.40 336.67) scale(0.85 1)" font-size="9.2" text-anchor="end">0.6</text>
<text class="t k" transform="translate(340.40 306.84) scale(0.85 1)" font-size="9.2" text-anchor="end">0.7</text>
<text class="t k" transform="translate(340.40 277.01) scale(0.85 1)" font-size="9.2" text-anchor="end">0.8</text>
<text class="t k" transform="translate(340.40 247.18) scale(0.85 1)" font-size="9.2" text-anchor="end">0.9</text>
<text class="t k" transform="translate(340.40 217.35) scale(0.85 1)" font-size="9.2" text-anchor="end">1.0</text>
<text class="t" x="443.40" y="385.20" font-size="12.8" letter-spacing="0.2" stroke="#111" stroke-width="0.25" text-anchor="middle">X/D</text>
<text class="t" transform="translate(322.20 288.85) rotate(-90)" font-size="12.5" stroke="#111" stroke-width="0.25" text-anchor="middle">C<tspan font-size="8.8" dy="3.8">T</tspan><tspan dy="-3.8">/C</tspan><tspan font-size="8.8" dy="3.8">T,single</tspan></text>
<rect x="474.50" y="297.95" width="59.7" height="50.5" fill="#fff" stroke="#333" stroke-width="1"/>
<line x1="476.30" y1="304.55" x2="500.40" y2="304.55" stroke="#3a3a3a" stroke-width="1.25"/>
<rect x="486.28" y="302.94" width="3.23" height="3.23" fill="#3a3a3a"/>
<text class="t" x="517.30" y="308.05" font-size="10" letter-spacing="0.22" stroke="#111" stroke-width="0.2" text-anchor="middle">2m/s</text>
<line x1="476.30" y1="317.05" x2="500.40" y2="317.05" stroke="#f5323a" stroke-width="1.25"/>
<circle cx="487.90" cy="317.05" r="1.90" fill="#f5323a"/>
<text class="t" x="517.30" y="320.55" font-size="10" letter-spacing="0.22" stroke="#111" stroke-width="0.2" text-anchor="middle">5m/s</text>
<line x1="476.30" y1="329.55" x2="500.40" y2="329.55" stroke="#1c64e6" stroke-width="1.25"/>
<path d="M487.90 327.18L490.16 331.21L485.64 331.21Z" fill="#1c64e6"/>
<text class="t" x="517.30" y="333.05" font-size="10" letter-spacing="0.22" stroke="#111" stroke-width="0.2" text-anchor="middle">10m/s</text>
<line x1="476.30" y1="342.05" x2="500.40" y2="342.05" stroke="#1fa65a" stroke-width="1.25"/>
<path d="M487.90 344.43L490.16 340.39L485.64 340.39Z" fill="#1fa65a"/>
<text class="t" x="517.30" y="345.55" font-size="10" letter-spacing="0.22" stroke="#111" stroke-width="0.2" text-anchor="middle">15m/s</text>
</g>
<g>
<line x1="92.37" y1="419.95" x2="92.37" y2="569.1" stroke="#dcdcdc" stroke-width="0.8"/>
<line x1="130.11" y1="419.95" x2="130.11" y2="569.1" stroke="#dcdcdc" stroke-width="0.8"/>
<line x1="167.85" y1="419.95" x2="167.85" y2="569.1" stroke="#dcdcdc" stroke-width="0.8"/>
<line x1="205.59" y1="419.95" x2="205.59" y2="569.1" stroke="#dcdcdc" stroke-width="0.8"/>
<line x1="243.33" y1="419.95" x2="243.33" y2="569.1" stroke="#dcdcdc" stroke-width="0.8"/>
<line x1="73.5" y1="554.19" x2="272.1" y2="554.19" stroke="#cacaca" stroke-width="0.7" stroke-dasharray="1.3 1.5"/>
<line x1="73.5" y1="524.36" x2="272.1" y2="524.36" stroke="#cacaca" stroke-width="0.7" stroke-dasharray="1.3 1.5"/>
<line x1="73.5" y1="494.53" x2="272.1" y2="494.53" stroke="#cacaca" stroke-width="0.7" stroke-dasharray="1.3 1.5"/>
<line x1="73.5" y1="464.69" x2="272.1" y2="464.69" stroke="#cacaca" stroke-width="0.7" stroke-dasharray="1.3 1.5"/>
<line x1="73.5" y1="434.87" x2="272.1" y2="434.87" stroke="#cacaca" stroke-width="0.7" stroke-dasharray="1.3 1.5"/>
<line x1="111.24" y1="419.95" x2="111.24" y2="569.1" stroke="#6e6e6e" stroke-width="1" stroke-dasharray="1.6 2.0"/>
<line x1="148.98" y1="419.95" x2="148.98" y2="569.1" stroke="#6e6e6e" stroke-width="1" stroke-dasharray="1.6 2.0"/>
<line x1="186.72" y1="419.95" x2="186.72" y2="569.1" stroke="#6e6e6e" stroke-width="1" stroke-dasharray="1.6 2.0"/>
<line x1="224.46" y1="419.95" x2="224.46" y2="569.1" stroke="#6e6e6e" stroke-width="1" stroke-dasharray="1.6 2.0"/>
<line x1="262.20" y1="419.95" x2="262.20" y2="569.1" stroke="#6e6e6e" stroke-width="1" stroke-dasharray="1.6 2.0"/>
<line x1="73.5" y1="539.27" x2="272.1" y2="539.27" stroke="#808080" stroke-width="0.9" stroke-dasharray="2.0 2.0"/>
<line x1="73.5" y1="509.44" x2="272.1" y2="509.44" stroke="#808080" stroke-width="0.9" stroke-dasharray="2.0 2.0"/>
<line x1="73.5" y1="479.61" x2="272.1" y2="479.61" stroke="#808080" stroke-width="0.9" stroke-dasharray="2.0 2.0"/>
<line x1="73.5" y1="449.78" x2="272.1" y2="449.78" stroke="#808080" stroke-width="0.9" stroke-dasharray="2.0 2.0"/>
<rect x="73.5" y="419.95" width="198.6" height="149.15" fill="none" stroke="#000" stroke-width="1.8"/>
<line x1="92.37" y1="569.1" x2="92.37" y2="567.5" stroke="#000" stroke-width="1.0"/>
<line x1="111.24" y1="569.1" x2="111.24" y2="565.3000000000001" stroke="#000" stroke-width="1.7"/>
<line x1="130.11" y1="569.1" x2="130.11" y2="567.5" stroke="#000" stroke-width="1.0"/>
<line x1="148.98" y1="569.1" x2="148.98" y2="565.3000000000001" stroke="#000" stroke-width="1.7"/>
<line x1="167.85" y1="569.1" x2="167.85" y2="567.5" stroke="#000" stroke-width="1.0"/>
<line x1="186.72" y1="569.1" x2="186.72" y2="565.3000000000001" stroke="#000" stroke-width="1.7"/>
<line x1="205.59" y1="569.1" x2="205.59" y2="567.5" stroke="#000" stroke-width="1.0"/>
<line x1="224.46" y1="569.1" x2="224.46" y2="565.3000000000001" stroke="#000" stroke-width="1.7"/>
<line x1="243.33" y1="569.1" x2="243.33" y2="567.5" stroke="#000" stroke-width="1.0"/>
<line x1="262.20" y1="569.1" x2="262.20" y2="565.3000000000001" stroke="#000" stroke-width="1.7"/>
<line x1="73.5" y1="554.19" x2="75.1" y2="554.19" stroke="#000" stroke-width="1.0"/>
<line x1="73.5" y1="539.27" x2="77.3" y2="539.27" stroke="#000" stroke-width="1.7"/>
<line x1="73.5" y1="524.36" x2="75.1" y2="524.36" stroke="#000" stroke-width="1.0"/>
<line x1="73.5" y1="509.44" x2="77.3" y2="509.44" stroke="#000" stroke-width="1.7"/>
<line x1="73.5" y1="494.53" x2="75.1" y2="494.53" stroke="#000" stroke-width="1.0"/>
<line x1="73.5" y1="479.61" x2="77.3" y2="479.61" stroke="#000" stroke-width="1.7"/>
<line x1="73.5" y1="464.69" x2="75.1" y2="464.69" stroke="#000" stroke-width="1.0"/>
<line x1="73.5" y1="449.78" x2="77.3" y2="449.78" stroke="#000" stroke-width="1.7"/>
<line x1="73.5" y1="434.87" x2="75.1" y2="434.87" stroke="#000" stroke-width="1.0"/>
<clipPath id="cpcL"><rect x="72.5" y="418.75" width="200.6" height="151.55"/></clipPath>
<g clip-path="url(#cpcL)">
<path d="M82.94 451.87L92.37 472.15L111.24 482.59L130.11 467.20L148.98 458.43L186.72 448.08L224.46 436.65L262.20 438.44" fill="none" stroke="#3a3a3a" stroke-width="1.25" stroke-linejoin="round"/>
<rect x="81.23" y="450.17" width="3.40" height="3.40" fill="#3a3a3a"/>
<rect x="90.67" y="470.45" width="3.40" height="3.40" fill="#3a3a3a"/>
<rect x="109.54" y="480.89" width="3.40" height="3.40" fill="#3a3a3a"/>
<rect x="128.41" y="465.50" width="3.40" height="3.40" fill="#3a3a3a"/>
<rect x="147.28" y="456.73" width="3.40" height="3.40" fill="#3a3a3a"/>
<rect x="185.02" y="446.38" width="3.40" height="3.40" fill="#3a3a3a"/>
<rect x="222.76" y="434.95" width="3.40" height="3.40" fill="#3a3a3a"/>
<rect x="260.50" y="436.74" width="3.40" height="3.40" fill="#3a3a3a"/>
<path d="M82.94 435.46C84.11 435.39 88.83 435.46 92.37 434.87C95.91 434.27 106.52 431.38 111.24 430.69C115.96 430.00 125.39 429.74 130.11 429.35C134.83 428.95 141.90 427.49 148.98 427.56C156.06 427.62 177.28 430.83 186.72 429.88C196.16 428.93 215.03 420.77 224.46 419.95C233.90 419.13 257.48 422.93 262.20 423.35" fill="none" stroke="#f5323a" stroke-width="1.25" stroke-linejoin="round"/>
<circle cx="82.94" cy="435.46" r="2.00" fill="#f5323a"/>
<circle cx="92.37" cy="434.87" r="2.00" fill="#f5323a"/>
<circle cx="111.24" cy="430.69" r="2.00" fill="#f5323a"/>
<circle cx="130.11" cy="429.35" r="2.00" fill="#f5323a"/>
<circle cx="148.98" cy="427.56" r="2.00" fill="#f5323a"/>
<circle cx="186.72" cy="429.88" r="2.00" fill="#f5323a"/>
<circle cx="224.46" cy="419.95" r="2.00" fill="#f5323a"/>
<circle cx="262.20" cy="423.35" r="2.00" fill="#f5323a"/>
<path d="M82.94 426.21C84.11 425.92 88.83 424.57 92.37 423.83C95.91 423.08 106.52 420.58 111.24 420.25C115.96 419.91 125.39 420.76 130.11 421.14C134.83 421.53 141.90 422.62 148.98 423.35C156.06 424.08 177.28 426.09 186.72 426.96C196.16 427.83 215.03 429.58 224.46 430.27C233.90 430.96 257.48 432.20 262.20 432.48" fill="none" stroke="#1c64e6" stroke-width="1.25" stroke-linejoin="round"/>
<path d="M82.94 423.71L85.31 427.96L80.56 427.96Z" fill="#1c64e6"/>
<path d="M92.37 421.33L94.75 425.58L90.00 425.58Z" fill="#1c64e6"/>
<path d="M111.24 417.75L113.62 422.00L108.87 422.00Z" fill="#1c64e6"/>
<path d="M130.11 418.64L132.49 422.89L127.74 422.89Z" fill="#1c64e6"/>
<path d="M148.98 420.85L151.36 425.10L146.61 425.10Z" fill="#1c64e6"/>
<path d="M186.72 424.46L189.09 428.71L184.34 428.71Z" fill="#1c64e6"/>
<path d="M224.46 427.77L226.84 432.02L222.09 432.02Z" fill="#1c64e6"/>
<path d="M262.20 429.98L264.58 434.23L259.83 434.23Z" fill="#1c64e6"/>
<path d="M82.94 435.46L92.37 429.88L111.24 425.74L130.11 426.63L148.98 426.07L186.72 425.17L224.46 426.63L262.20 426.21" fill="none" stroke="#1fa65a" stroke-width="1.25" stroke-linejoin="round"/>
<path d="M82.94 437.96L85.31 433.71L80.56 433.71Z" fill="#1fa65a"/>
<path d="M92.37 432.38L94.75 428.13L90.00 428.13Z" fill="#1fa65a"/>
<path d="M111.24 428.24L113.62 423.99L108.87 423.99Z" fill="#1fa65a"/>
<path d="M130.11 429.13L132.49 424.88L127.74 424.88Z" fill="#1fa65a"/>
<path d="M148.98 428.57L151.36 424.32L146.61 424.32Z" fill="#1fa65a"/>
<path d="M186.72 427.67L189.09 423.42L184.34 423.42Z" fill="#1fa65a"/>
<path d="M224.46 429.13L226.84 424.88L222.09 424.88Z" fill="#1fa65a"/>
<path d="M262.20 428.71L264.58 424.46L259.83 424.46Z" fill="#1fa65a"/>
</g>
<text class="t k" transform="translate(72.60 578.45) scale(0.85 1)" font-size="9.2" text-anchor="middle">0</text>
<text class="t k" transform="translate(110.34 578.45) scale(0.85 1)" font-size="9.2" text-anchor="middle">2</text>
<text class="t k" transform="translate(148.08 578.45) scale(0.85 1)" font-size="9.2" text-anchor="middle">4</text>
<text class="t k" transform="translate(185.82 578.45) scale(0.85 1)" font-size="9.2" text-anchor="middle">6</text>
<text class="t k" transform="translate(223.56 578.45) scale(0.85 1)" font-size="9.2" text-anchor="middle">8</text>
<text class="t k" transform="translate(261.30 578.45) scale(0.85 1)" font-size="9.2" text-anchor="middle">10</text>
<text class="t k" transform="translate(69.10 571.10) scale(0.85 1)" font-size="9.2" text-anchor="end">0.5</text>
<text class="t k" transform="translate(69.10 541.27) scale(0.85 1)" font-size="9.2" text-anchor="end">0.6</text>
<text class="t k" transform="translate(69.10 511.44) scale(0.85 1)" font-size="9.2" text-anchor="end">0.7</text>
<text class="t k" transform="translate(69.10 481.61) scale(0.85 1)" font-size="9.2" text-anchor="end">0.8</text>
<text class="t k" transform="translate(69.10 451.78) scale(0.85 1)" font-size="9.2" text-anchor="end">0.9</text>
<text class="t k" transform="translate(69.10 421.95) scale(0.85 1)" font-size="9.2" text-anchor="end">1.0</text>
<text class="t" x="172.10" y="589.80" font-size="12.8" letter-spacing="0.2" stroke="#111" stroke-width="0.25" text-anchor="middle">X/D</text>
<text class="t" transform="translate(50.90 493.45) rotate(-90)" font-size="12.5" stroke="#111" stroke-width="0.25" text-anchor="middle">C<tspan font-size="8.8" dy="3.8">T</tspan><tspan dy="-3.8">/C</tspan><tspan font-size="8.8" dy="3.8">T,single</tspan></text>
<rect x="203.20" y="502.55" width="59.7" height="50.5" fill="#fff" stroke="#333" stroke-width="1"/>
<line x1="205.00" y1="509.15" x2="229.10" y2="509.15" stroke="#3a3a3a" stroke-width="1.25"/>
<rect x="214.98" y="507.53" width="3.23" height="3.23" fill="#3a3a3a"/>
<text class="t" x="246.00" y="512.65" font-size="10" letter-spacing="0.22" stroke="#111" stroke-width="0.2" text-anchor="middle">2m/s</text>
<line x1="205.00" y1="521.65" x2="229.10" y2="521.65" stroke="#f5323a" stroke-width="1.25"/>
<circle cx="216.60" cy="521.65" r="1.90" fill="#f5323a"/>
<text class="t" x="246.00" y="525.15" font-size="10" letter-spacing="0.22" stroke="#111" stroke-width="0.2" text-anchor="middle">5m/s</text>
<line x1="205.00" y1="534.15" x2="229.10" y2="534.15" stroke="#1c64e6" stroke-width="1.25"/>
<path d="M216.60 531.77L218.86 535.81L214.34 535.81Z" fill="#1c64e6"/>
<text class="t" x="246.00" y="537.65" font-size="10" letter-spacing="0.22" stroke="#111" stroke-width="0.2" text-anchor="middle">10m/s</text>
<line x1="205.00" y1="546.65" x2="229.10" y2="546.65" stroke="#1fa65a" stroke-width="1.25"/>
<path d="M216.60 549.02L218.86 544.99L214.34 544.99Z" fill="#1fa65a"/>
<text class="t" x="246.00" y="550.15" font-size="10" letter-spacing="0.22" stroke="#111" stroke-width="0.2" text-anchor="middle">15m/s</text>
</g>
<g>
<line x1="363.67" y1="419.95" x2="363.67" y2="569.1" stroke="#dcdcdc" stroke-width="0.8"/>
<line x1="401.41" y1="419.95" x2="401.41" y2="569.1" stroke="#dcdcdc" stroke-width="0.8"/>
<line x1="439.15" y1="419.95" x2="439.15" y2="569.1" stroke="#dcdcdc" stroke-width="0.8"/>
<line x1="476.89" y1="419.95" x2="476.89" y2="569.1" stroke="#dcdcdc" stroke-width="0.8"/>
<line x1="514.63" y1="419.95" x2="514.63" y2="569.1" stroke="#dcdcdc" stroke-width="0.8"/>
<line x1="344.8" y1="554.19" x2="543.4" y2="554.19" stroke="#cacaca" stroke-width="0.7" stroke-dasharray="1.3 1.5"/>
<line x1="344.8" y1="524.36" x2="543.4" y2="524.36" stroke="#cacaca" stroke-width="0.7" stroke-dasharray="1.3 1.5"/>
<line x1="344.8" y1="494.53" x2="543.4" y2="494.53" stroke="#cacaca" stroke-width="0.7" stroke-dasharray="1.3 1.5"/>
<line x1="344.8" y1="464.69" x2="543.4" y2="464.69" stroke="#cacaca" stroke-width="0.7" stroke-dasharray="1.3 1.5"/>
<line x1="344.8" y1="434.87" x2="543.4" y2="434.87" stroke="#cacaca" stroke-width="0.7" stroke-dasharray="1.3 1.5"/>
<line x1="382.54" y1="419.95" x2="382.54" y2="569.1" stroke="#6e6e6e" stroke-width="1" stroke-dasharray="1.6 2.0"/>
<line x1="420.28" y1="419.95" x2="420.28" y2="569.1" stroke="#6e6e6e" stroke-width="1" stroke-dasharray="1.6 2.0"/>
<line x1="458.02" y1="419.95" x2="458.02" y2="569.1" stroke="#6e6e6e" stroke-width="1" stroke-dasharray="1.6 2.0"/>
<line x1="495.76" y1="419.95" x2="495.76" y2="569.1" stroke="#6e6e6e" stroke-width="1" stroke-dasharray="1.6 2.0"/>
<line x1="533.50" y1="419.95" x2="533.50" y2="569.1" stroke="#6e6e6e" stroke-width="1" stroke-dasharray="1.6 2.0"/>
<line x1="344.8" y1="539.27" x2="543.4" y2="539.27" stroke="#808080" stroke-width="0.9" stroke-dasharray="2.0 2.0"/>
<line x1="344.8" y1="509.44" x2="543.4" y2="509.44" stroke="#808080" stroke-width="0.9" stroke-dasharray="2.0 2.0"/>
<line x1="344.8" y1="479.61" x2="543.4" y2="479.61" stroke="#808080" stroke-width="0.9" stroke-dasharray="2.0 2.0"/>
<line x1="344.8" y1="449.78" x2="543.4" y2="449.78" stroke="#808080" stroke-width="0.9" stroke-dasharray="2.0 2.0"/>
<rect x="344.8" y="419.95" width="198.6" height="149.15" fill="none" stroke="#000" stroke-width="1.8"/>
<line x1="363.67" y1="569.1" x2="363.67" y2="567.5" stroke="#000" stroke-width="1.0"/>
<line x1="382.54" y1="569.1" x2="382.54" y2="565.3000000000001" stroke="#000" stroke-width="1.7"/>
<line x1="401.41" y1="569.1" x2="401.41" y2="567.5" stroke="#000" stroke-width="1.0"/>
<line x1="420.28" y1="569.1" x2="420.28" y2="565.3000000000001" stroke="#000" stroke-width="1.7"/>
<line x1="439.15" y1="569.1" x2="439.15" y2="567.5" stroke="#000" stroke-width="1.0"/>
<line x1="458.02" y1="569.1" x2="458.02" y2="565.3000000000001" stroke="#000" stroke-width="1.7"/>
<line x1="476.89" y1="569.1" x2="476.89" y2="567.5" stroke="#000" stroke-width="1.0"/>
<line x1="495.76" y1="569.1" x2="495.76" y2="565.3000000000001" stroke="#000" stroke-width="1.7"/>
<line x1="514.63" y1="569.1" x2="514.63" y2="567.5" stroke="#000" stroke-width="1.0"/>
<line x1="533.50" y1="569.1" x2="533.50" y2="565.3000000000001" stroke="#000" stroke-width="1.7"/>
<line x1="344.8" y1="554.19" x2="346.40000000000003" y2="554.19" stroke="#000" stroke-width="1.0"/>
<line x1="344.8" y1="539.27" x2="348.6" y2="539.27" stroke="#000" stroke-width="1.7"/>
<line x1="344.8" y1="524.36" x2="346.40000000000003" y2="524.36" stroke="#000" stroke-width="1.0"/>
<line x1="344.8" y1="509.44" x2="348.6" y2="509.44" stroke="#000" stroke-width="1.7"/>
<line x1="344.8" y1="494.53" x2="346.40000000000003" y2="494.53" stroke="#000" stroke-width="1.0"/>
<line x1="344.8" y1="479.61" x2="348.6" y2="479.61" stroke="#000" stroke-width="1.7"/>
<line x1="344.8" y1="464.69" x2="346.40000000000003" y2="464.69" stroke="#000" stroke-width="1.0"/>
<line x1="344.8" y1="449.78" x2="348.6" y2="449.78" stroke="#000" stroke-width="1.7"/>
<line x1="344.8" y1="434.87" x2="346.40000000000003" y2="434.87" stroke="#000" stroke-width="1.0"/>
<clipPath id="cpcR"><rect x="343.8" y="418.75" width="200.6" height="151.55"/></clipPath>
<g clip-path="url(#cpcR)">
<path d="M354.24 501.98L363.67 494.82L382.54 462.99L401.41 449.78L420.28 444.26L458.02 430.69L495.76 434.87L533.50 434.57" fill="none" stroke="#3a3a3a" stroke-width="1.25" stroke-linejoin="round"/>
<rect x="352.54" y="500.28" width="3.40" height="3.40" fill="#3a3a3a"/>
<rect x="361.97" y="493.12" width="3.40" height="3.40" fill="#3a3a3a"/>
<rect x="380.84" y="461.29" width="3.40" height="3.40" fill="#3a3a3a"/>
<rect x="399.71" y="448.08" width="3.40" height="3.40" fill="#3a3a3a"/>
<rect x="418.58" y="442.56" width="3.40" height="3.40" fill="#3a3a3a"/>
<rect x="456.32" y="428.99" width="3.40" height="3.40" fill="#3a3a3a"/>
<rect x="494.06" y="433.17" width="3.40" height="3.40" fill="#3a3a3a"/>
<rect x="531.80" y="432.87" width="3.40" height="3.40" fill="#3a3a3a"/>
<path d="M354.24 443.37L363.67 452.46L382.54 460.28L401.41 457.24L420.28 452.46L458.02 451.27L495.76 448.47L533.50 446.68" fill="none" stroke="#f5323a" stroke-width="1.25" stroke-linejoin="round"/>
<circle cx="354.24" cy="443.37" r="2.00" fill="#f5323a"/>
<circle cx="363.67" cy="452.46" r="2.00" fill="#f5323a"/>
<circle cx="382.54" cy="460.28" r="2.00" fill="#f5323a"/>
<circle cx="401.41" cy="457.24" r="2.00" fill="#f5323a"/>
<circle cx="420.28" cy="452.46" r="2.00" fill="#f5323a"/>
<circle cx="458.02" cy="451.27" r="2.00" fill="#f5323a"/>
<circle cx="495.76" cy="448.47" r="2.00" fill="#f5323a"/>
<circle cx="533.50" cy="446.68" r="2.00" fill="#f5323a"/>
<path d="M354.24 434.48L363.67 435.46L382.54 435.46L401.41 437.55L420.28 437.25L458.02 438.15L495.76 438.86L533.50 432.48" fill="none" stroke="#1c64e6" stroke-width="1.25" stroke-linejoin="round"/>
<path d="M354.24 431.98L356.61 436.23L351.86 436.23Z" fill="#1c64e6"/>
<path d="M363.67 432.96L366.05 437.21L361.30 437.21Z" fill="#1c64e6"/>
<path d="M382.54 432.96L384.92 437.21L380.17 437.21Z" fill="#1c64e6"/>
<path d="M401.41 435.05L403.79 439.30L399.04 439.30Z" fill="#1c64e6"/>
<path d="M420.28 434.75L422.66 439.00L417.91 439.00Z" fill="#1c64e6"/>
<path d="M458.02 435.65L460.39 439.90L455.64 439.90Z" fill="#1c64e6"/>
<path d="M495.76 436.36L498.13 440.61L493.38 440.61Z" fill="#1c64e6"/>
<path d="M533.50 429.98L535.88 434.23L531.12 434.23Z" fill="#1c64e6"/>
<path d="M354.24 439.34L363.67 436.95L382.54 434.27L401.41 430.69L420.28 425.77L458.02 426.07L495.76 426.21L533.50 427.56" fill="none" stroke="#1fa65a" stroke-width="1.25" stroke-linejoin="round"/>
<path d="M354.24 441.84L356.61 437.59L351.86 437.59Z" fill="#1fa65a"/>
<path d="M363.67 439.45L366.05 435.20L361.30 435.20Z" fill="#1fa65a"/>
<path d="M382.54 436.77L384.92 432.52L380.17 432.52Z" fill="#1fa65a"/>
<path d="M401.41 433.19L403.79 428.94L399.04 428.94Z" fill="#1fa65a"/>
<path d="M420.28 428.27L422.66 424.02L417.91 424.02Z" fill="#1fa65a"/>
<path d="M458.02 428.57L460.39 424.32L455.64 424.32Z" fill="#1fa65a"/>
<path d="M495.76 428.71L498.13 424.46L493.38 424.46Z" fill="#1fa65a"/>
<path d="M533.50 430.06L535.88 425.81L531.12 425.81Z" fill="#1fa65a"/>
</g>
<text class="t k" transform="translate(343.90 578.45) scale(0.85 1)" font-size="9.2" text-anchor="middle">0</text>
<text class="t k" transform="translate(381.64 578.45) scale(0.85 1)" font-size="9.2" text-anchor="middle">2</text>
<text class="t k" transform="translate(419.38 578.45) scale(0.85 1)" font-size="9.2" text-anchor="middle">4</text>
<text class="t k" transform="translate(457.12 578.45) scale(0.85 1)" font-size="9.2" text-anchor="middle">6</text>
<text class="t k" transform="translate(494.86 578.45) scale(0.85 1)" font-size="9.2" text-anchor="middle">8</text>
<text class="t k" transform="translate(532.60 578.45) scale(0.85 1)" font-size="9.2" text-anchor="middle">10</text>
<text class="t k" transform="translate(340.40 571.10) scale(0.85 1)" font-size="9.2" text-anchor="end">0.5</text>
<text class="t k" transform="translate(340.40 541.27) scale(0.85 1)" font-size="9.2" text-anchor="end">0.6</text>
<text class="t k" transform="translate(340.40 511.44) scale(0.85 1)" font-size="9.2" text-anchor="end">0.7</text>
<text class="t k" transform="translate(340.40 481.61) scale(0.85 1)" font-size="9.2" text-anchor="end">0.8</text>
<text class="t k" transform="translate(340.40 451.78) scale(0.85 1)" font-size="9.2" text-anchor="end">0.9</text>
<text class="t k" transform="translate(340.40 421.95) scale(0.85 1)" font-size="9.2" text-anchor="end">1.0</text>
<text class="t" x="443.40" y="589.80" font-size="12.8" letter-spacing="0.2" stroke="#111" stroke-width="0.25" text-anchor="middle">X/D</text>
<text class="t" transform="translate(322.20 493.45) rotate(-90)" font-size="12.5" stroke="#111" stroke-width="0.25" text-anchor="middle">C<tspan font-size="8.8" dy="3.8">T</tspan><tspan dy="-3.8">/C</tspan><tspan font-size="8.8" dy="3.8">T,single</tspan></text>
<rect x="474.50" y="502.55" width="59.7" height="50.5" fill="#fff" stroke="#333" stroke-width="1"/>
<line x1="476.30" y1="509.15" x2="500.40" y2="509.15" stroke="#3a3a3a" stroke-width="1.25"/>
<rect x="486.28" y="507.53" width="3.23" height="3.23" fill="#3a3a3a"/>
<text class="t" x="517.30" y="512.65" font-size="10" letter-spacing="0.22" stroke="#111" stroke-width="0.2" text-anchor="middle">2m/s</text>
<line x1="476.30" y1="521.65" x2="500.40" y2="521.65" stroke="#f5323a" stroke-width="1.25"/>
<circle cx="487.90" cy="521.65" r="1.90" fill="#f5323a"/>
<text class="t" x="517.30" y="525.15" font-size="10" letter-spacing="0.22" stroke="#111" stroke-width="0.2" text-anchor="middle">5m/s</text>
<line x1="476.30" y1="534.15" x2="500.40" y2="534.15" stroke="#1c64e6" stroke-width="1.25"/>
<path d="M487.90 531.77L490.16 535.81L485.64 535.81Z" fill="#1c64e6"/>
<text class="t" x="517.30" y="537.65" font-size="10" letter-spacing="0.22" stroke="#111" stroke-width="0.2" text-anchor="middle">10m/s</text>
<line x1="476.30" y1="546.65" x2="500.40" y2="546.65" stroke="#1fa65a" stroke-width="1.25"/>
<path d="M487.90 549.02L490.16 544.99L485.64 544.99Z" fill="#1fa65a"/>
<text class="t" x="517.30" y="550.15" font-size="10" letter-spacing="0.22" stroke="#111" stroke-width="0.2" text-anchor="middle">15m/s</text>
</g>
<text class="s" x="15.8" y="96.05" font-size="17.8" stroke="#111" stroke-width="0.15" text-anchor="middle">(a)</text>
<text class="s" x="15.8" y="300.35" font-size="17.8" stroke="#111" stroke-width="0.15" text-anchor="middle">(b)</text>
<text class="s" x="15.8" y="504.95" font-size="17.8" stroke="#111" stroke-width="0.15" text-anchor="middle">(c)</text>
<text class="s" x="174.2" y="611.5" font-size="13.8" stroke="#111" stroke-width="0.3" text-anchor="middle">5000RPM</text>
<text class="s" x="448.2" y="611.5" font-size="13.8" stroke="#111" stroke-width="0.3" text-anchor="middle">8000RPM</text>
</svg></body></html>
